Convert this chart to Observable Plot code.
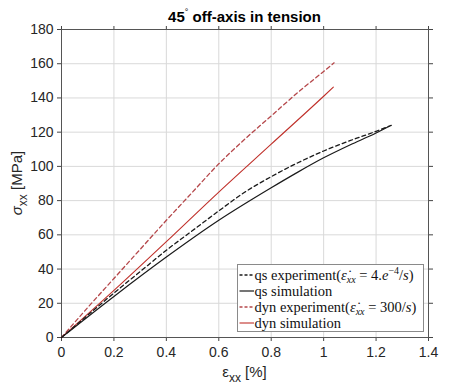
<!DOCTYPE html>
<html>
<head>
<meta charset="utf-8">
<script src="https://cdn.jsdelivr.net/npm/d3@7"></script>
<script src="https://cdn.jsdelivr.net/npm/@observablehq/plot@0.6"></script>
<style>
  html, body { margin: 0; padding: 0; background: #fff; }
</style>
</head>
<body>
<div id="chart"></div>
<script>
// ---- data ----
const xTicks = [0, 0.2, 0.4, 0.6, 0.8, 1, 1.2, 1.4];
const yTicks = [0, 20, 40, 60, 80, 100, 120, 140, 160, 180];

const qsExpX = [0, 0.1, 0.2, 0.3, 0.4, 0.5, 0.6, 0.7, 0.8, 0.9, 1.0, 1.1, 1.2, 1.258];
const qsExpY = [0, 13, 26, 38.5, 51, 62.5, 74, 85, 94, 102, 109, 115, 120.5, 124];

const qsSimX = [0, 0.2, 0.4, 0.6, 0.8, 0.9, 1.0, 1.1, 1.2, 1.25];
const qsSimY = [0, 24, 47, 68.5, 87.5, 96.5, 105, 112.5, 119.5, 123.5];

const dynExpX = [0, 0.1, 0.2, 0.3, 0.4, 0.5, 0.6, 0.7, 0.8, 0.9, 1.0, 1.04];
const dynExpY = [0, 17.5, 34.5, 51.5, 68.5, 85, 101.5, 116, 129.5, 143, 155.5, 160.5];

const dynSimX = [0, 0.2, 0.4, 0.6, 0.8, 1.0, 1.037];
const dynSimY = [0, 27.5, 56, 85, 113, 141, 146.3];

const toRows = (xs, ys) => xs.map((x, i) => ({x, y: ys[i]}));
const qsExp = toRows(qsExpX, qsExpY);
const qsSim = toRows(qsSimX, qsSimY);
const dynExp = toRows(dynExpX, dynExpY);
const dynSim = toRows(dynSimX, dynSimY);

const black = "#1a1a1a";
const red = "#c0302a";
const redDash = "#b5474a";

const fmt = d => String(d);

const svg = Plot.plot({
  width: 474,
  height: 391,
  marginLeft: 61,
  marginRight: 46,
  marginTop: 29,
  marginBottom: 54,
  style: {fontFamily: "Liberation Sans, Arial, sans-serif", fontSize: "14px", color: "#262626", background: "#fff"},
  x: {domain: [0, 1.4], label: null},
  y: {domain: [0, 180], label: null},
  marks: [
    Plot.gridX(xTicks, {stroke: "#d9d9d9", strokeOpacity: 1}),
    Plot.gridY(yTicks, {stroke: "#d9d9d9", strokeOpacity: 1}),
    Plot.axisX(xTicks, {anchor: "bottom", tickSize: 4, tickPadding: 6, tickFormat: fmt, label: null, fontSize: 14, stroke: "#444"}),
    Plot.axisX(xTicks, {anchor: "top", tickSize: 4, tickFormat: () => "", label: null, stroke: "#444"}),
    Plot.axisY(yTicks, {anchor: "left", tickSize: 4, tickPadding: 4, tickFormat: fmt, label: null, fontSize: 14, stroke: "#444"}),
    Plot.axisY(yTicks, {anchor: "right", tickSize: 4, tickFormat: () => "", label: null, stroke: "#444"}),
    Plot.frame({stroke: "#555", strokeWidth: 1}),
    Plot.line(dynExp, {x: "x", y: "y", stroke: redDash, strokeWidth: 1.3, strokeDasharray: "4,3", curve: "monotone-x"}),
    Plot.line(dynSim, {x: "x", y: "y", stroke: red, strokeWidth: 1.1, curve: "monotone-x"}),
    Plot.line(qsExp, {x: "x", y: "y", stroke: black, strokeWidth: 1.3, strokeDasharray: "4,3", curve: "monotone-x"}),
    Plot.line(qsSim, {x: "x", y: "y", stroke: black, strokeWidth: 1.2, curve: "monotone-x"})
  ]
});

const s = d3.select(svg);

// Title
const title = s.append("text")
  .attr("x", 244.5).attr("y", 22)
  .attr("text-anchor", "middle")
  .attr("font-family", "Liberation Sans, Arial, sans-serif")
  .attr("font-weight", "bold")
  .attr("font-size", 15)
  .attr("fill", "#000");
title.append("tspan").text("45");
title.append("tspan").attr("dy", -7).attr("font-size", 9).attr("font-weight", "normal").text("°");
title.append("tspan").attr("dy", 7).text(" off-axis in tension");

// X label
const xl = s.append("text")
  .attr("x", 244.5).attr("y", 377)
  .attr("text-anchor", "middle")
  .attr("font-family", "Liberation Sans, Arial, sans-serif")
  .attr("font-size", 15)
  .attr("fill", "#262626");
xl.append("tspan").text("ε");
xl.append("tspan").attr("dy", 5).attr("font-size", 12).text("xx");
xl.append("tspan").attr("dy", -5).text(" [%]");

// Y label
const yl = s.append("text")
  .attr("transform", "translate(22,183) rotate(-90)")
  .attr("text-anchor", "middle")
  .attr("font-family", "Liberation Sans, Arial, sans-serif")
  .attr("font-size", 15)
  .attr("fill", "#262626");
yl.append("tspan").attr("font-style", "italic").text("σ");
yl.append("tspan").attr("dy", 5).attr("font-size", 12).text("xx");
yl.append("tspan").attr("dy", -5).text(" [MPa]");

// Legend
const lg = s.append("g")
  .attr("font-family", "Liberation Serif, Times New Roman, serif")
  .attr("font-size", 14.5)
  .attr("text-anchor", "start")
  .attr("fill", "#111");
lg.append("rect").attr("x", 237.5).attr("y", 264.5).attr("width", 186).attr("height", 67)
  .attr("fill", "#fff").attr("stroke", "#8a8a8a").attr("stroke-width", 1);
const entries = [
  {stroke: black, dash: "3,2", w: 1.3},
  {stroke: black, dash: null, w: 1.2},
  {stroke: redDash, dash: "3,2", w: 1.3},
  {stroke: red, dash: null, w: 1.1}
];
entries.forEach((e, i) => {
  const y = 275 + i * 16;
  const l = lg.append("line").attr("x1", 239.5).attr("x2", 254).attr("y1", y).attr("y2", y)
    .attr("stroke", e.stroke).attr("stroke-width", e.w);
  if (e.dash) l.attr("stroke-dasharray", e.dash);
});
function addText(i, parts) {
  const t = lg.append("text").attr("x", 254.5).attr("y", 275 + i * 16 + 5).attr("text-anchor", "start");
  parts.forEach(p => {
    const sp = t.append("tspan").text(p.t);
    if (p.i) sp.attr("font-style", "italic");
    if (p.dy) sp.attr("dy", p.dy);
    if (p.fs) sp.attr("font-size", p.fs);
  });
}
addText(0, [
  {t: "qs experiment("}, {t: "ε̇", i: true}, {t: "xx", i: true, dy: 3, fs: 10},
  {t: " = 4.", dy: -3}, {t: "e", i: true}, {t: "−4", dy: -6, fs: 10}, {t: "/", dy: 6}, {t: "s", i: true}, {t: ")"}
]);
addText(1, [{t: "qs simulation"}]);
addText(2, [
  {t: "dyn experiment("}, {t: "ε̇", i: true}, {t: "xx", i: true, dy: 3, fs: 10},
  {t: " = 300/", dy: -3}, {t: "s", i: true}, {t: ")"}
]);
addText(3, [{t: "dyn simulation"}]);

document.getElementById("chart").appendChild(svg);
</script>
</body>
</html>
